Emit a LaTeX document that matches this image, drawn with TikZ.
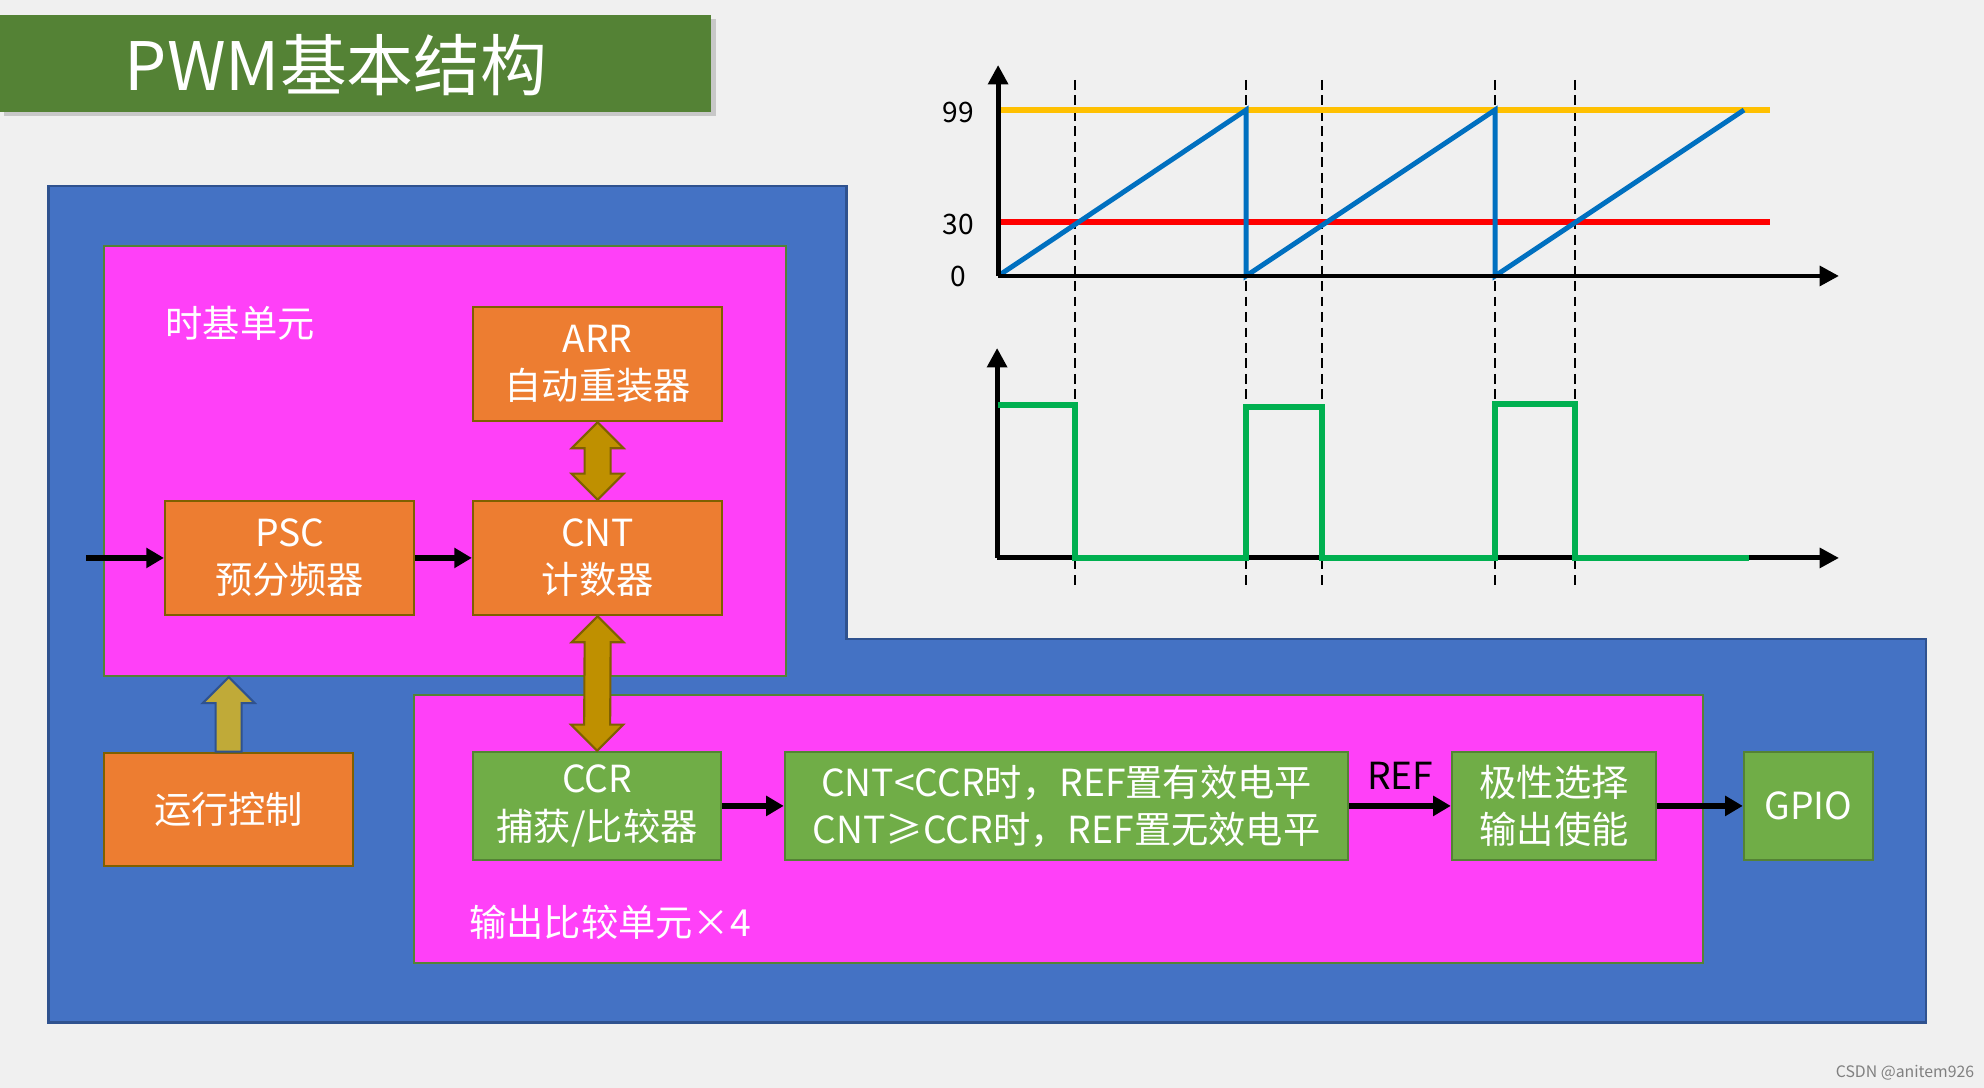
\documentclass[tikz,border=0pt]{standalone}
\usepackage{fontspec}
\setmainfont{Noto Sans CJK SC}
\usetikzlibrary{arrows.meta,calc,shadows}
\definecolor{bggray}{HTML}{F0F0F0}
\definecolor{titlegreen}{HTML}{548235}
\definecolor{bodyblue}{HTML}{4472C4}
\definecolor{edgeblue}{HTML}{2F528F}
\definecolor{unitpink}{HTML}{FF40F8}
\definecolor{boxorange}{HTML}{ED7D31}
\definecolor{boxbrown}{HTML}{7F6000}
\definecolor{busgold}{HTML}{BF9000}
\definecolor{rungold}{HTML}{C0AA38}
\definecolor{boxgreen}{HTML}{70AD47}
\definecolor{maxorange}{HTML}{FFC000}
\definecolor{cntblue}{HTML}{0070C0}
\definecolor{pwmgreen}{HTML}{00B050}
\begin{document}
\begin{tikzpicture}[x=0.01cm,y=-0.01cm,
  unitbox/.style={fill=unitpink, draw=titlegreen, line width=0.6pt, inner sep=0pt},
  orangebox/.style={fill=boxorange, draw=boxbrown, line width=0.7pt, text=white, align=center, inner sep=0pt, minimum width=2.49cm, minimum height=1.14cm, font=\fontsize{10.6}{13.4}\selectfont},
  greenbox/.style={fill=boxgreen, draw=titlegreen, line width=0.7pt, text=white, align=center, inner sep=0pt, minimum height=1.08cm, font=\fontsize{10.6}{13.4}\selectfont},
  unittext/.style={text=white, inner sep=0pt, font=\fontsize{10.6}{12.8}\selectfont},
  sig/.style={-{Triangle[length=5pt,width=5.5pt]}, line width=1.6pt},
  axis/.style={-{Triangle[length=5.5pt,width=5.5pt]}, line width=1.4pt},
  guide/.style={dash pattern=on 2.8pt off 1.6pt, line width=0.7pt},
  bus/.style={fill=busgold, draw=boxbrown, line width=0.6pt},
  tick/.style={inner sep=0pt, font=\fontsize{8}{9}\selectfont}]
\fill[bggray] (0,0) rectangle (1984,1088);
\node[fill=titlegreen, minimum width=7.11cm, minimum height=0.97cm, inner sep=0pt,
  drop shadow={shadow xshift=1.2pt, shadow yshift=-1.2pt, opacity=0.35}] (title) at (355.5,63.5) {};
\node[text=white, inner sep=0pt, font=\fontsize{19}{23}\selectfont] (titletext) at (336,65) {PWM基本结构};
\draw[fill=bodyblue, draw=edgeblue, line width=0.8pt] (48,186) -- (846,186) -- (846,639) -- (1926,639) -- (1926,1023) -- (48,1023) -- cycle;
\node[unitbox, minimum width=6.82cm, minimum height=4.30cm] (tb) at (445,461) {};
\node[unitbox, minimum width=12.89cm, minimum height=2.68cm] (oc) at (1058.5,829) {};
\node[unittext] (tbtext) at (240,323) {时基单元};
\node[unittext] (octext) at (610,922) {输出比较单元×4};
\node[orangebox] (arr) at (597.5,364) {ARR\\自动重装器};
\node[orangebox] (psc) at (289.5,558) {PSC\\预分频器};
\node[orangebox] (cnt) at (597.5,558) {CNT\\计数器};
\node[orangebox, minimum height=1.13cm] (run) at (228.5,809.5) {运行控制};
\node[greenbox, minimum width=2.48cm] (ccr) at (597,806) {CCR\\捕获/比较器};
\node[greenbox, minimum width=5.63cm] (cmp) at (1066.5,806) {CNT<CCR时，REF置有效电平\\CNT≥CCR时，REF置无效电平};
\node[greenbox, minimum width=2.04cm] (pol) at (1554,806) {极性选择\\输出使能};
\node[greenbox, minimum width=1.29cm] (gpio) at (1808.5,806) {GPIO};
\coordinate (clkin) at (86,558);
\draw[sig] (clkin) -- (psc.west);
\draw[sig] (psc.east) -- (cnt.west);
\draw[sig] (ccr.east) -- (cmp.west);
\draw[sig] (cmp.east) -- (pol.west) node[midway, above=4pt, inner sep=0pt, font=\fontsize{10.6}{12.8}\selectfont] (ref) {REF};
\draw[sig] (pol.east) -- (gpio.west);
\draw[bus] (arr.south) -- ++(26,26) -- ++(-13,0) -- ($(cnt.north)+(13,-26)$) -- ++(13,0) -- (cnt.north)
  -- ++(-26,-26) -- ++(13,0) -- ($(arr.south)+(-13,26)$) -- ++(-13,0) -- cycle;
\draw[bus] (cnt.south) -- ++(26,26) -- ++(-13,0) -- ($(ccr.north)+(13,-26)$) -- ++(13,0) -- (ccr.north)
  -- ++(-26,-26) -- ++(13,0) -- ($(cnt.south)+(-13,26)$) -- ++(-13,0) -- cycle;
\coordinate (runtip) at (run.north |- tb.south);
\draw[fill=rungold, draw=edgeblue, line width=0.6pt] ($(run.north)+(-13,0)$) -- ($(runtip)+(-13,26)$) -- ++(-13,0)
  -- (runtip) -- ++(26,26) -- ++(-13,0) -- ($(run.north)+(13,0)$) -- cycle;
\draw[guide] (1075,80) -- (1075,588);
\draw[guide] (1246,80) -- (1246,588);
\draw[guide] (1322,80) -- (1322,588);
\draw[guide] (1495,80) -- (1495,588);
\draw[guide] (1575,80) -- (1575,588);
\draw[maxorange, line width=1.5pt] (998,110) -- (1770,110);
\draw[red, line width=1.5pt] (998,222) -- (1770,222);
\draw[cntblue, line width=1.4pt] (998,276) -- (1246,110) -- (1246,276) -- (1495,110) -- (1495,276) -- (1744,110);
\draw[axis] (998,276) -- (998,65);
\draw[axis] (998,276) -- (1839,276);
\node[tick] (t99) at (958,112) {99};
\node[tick] (t30) at (958,224) {30};
\node[tick] (t0) at (958,277) {0};
\draw[axis] (997,558) -- (997,348);
\draw[axis] (997,558) -- (1839,558);
\draw[pwmgreen, line width=1.5pt] (998,405) -- (1075,405) -- (1075,558) -- (1246,558) -- (1246,407) -- (1322,407) -- (1322,558)
  -- (1495,558) -- (1495,404) -- (1575,404) -- (1575,558) -- (1749,558);
\node[text=gray, inner sep=0pt, font=\fontsize{4.5}{5}\selectfont] (mark) at (1905,1073) {CSDN @anitem926};
\end{tikzpicture}
\end{document}
